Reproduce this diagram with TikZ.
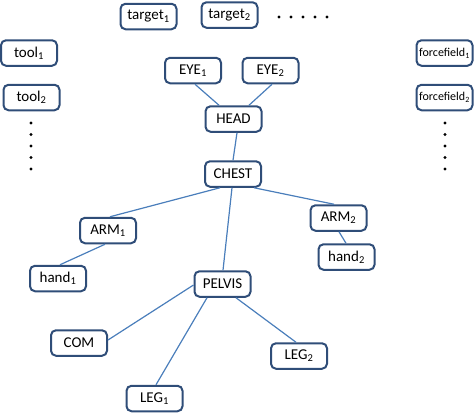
\documentclass[tikz,border=0pt]{standalone}
\usepackage{fontspec}
\setmainfont{Carlito}
\definecolor{boxc}{HTML}{2F4D78}
\definecolor{edgec}{HTML}{4A7EBB}
\begin{document}
\begin{tikzpicture}[x=1pt,y=-1pt,
  box/.style={draw=boxc,line width=2pt,rounded corners=5pt,fill=white,
    minimum width=56pt,minimum height=25.5pt,inner sep=1pt,font=\fontsize{15}{17}\selectfont},
  smallbox/.style={box,font=\fontsize{12}{14}\selectfont},
  link/.style={draw=edgec,line width=1.2pt},
  dot/.style={fill=black}]
\useasboundingbox (0,0) rectangle (474,413);
\node[box] (target1) at (148.5,16.5) {target\textsubscript{1}};
\node[box] (target2) at (229.5,15) {target\textsubscript{2}};
\node[box] (tool1) at (29,53) {tool\textsubscript{1}};
\node[box] (tool2) at (31.5,97.5) {tool\textsubscript{2}};
\node[smallbox] (ff1) at (444.5,53) {forcefield\textsubscript{1}};
\node[smallbox] (ff2) at (444.5,97.5) {forcefield\textsubscript{2}};
\node[box] (EYE1) at (193,70.5) {EYE\textsubscript{1}};
\node[box] (EYE2) at (270.5,70.5) {EYE\textsubscript{2}};
\node[box] (HEAD) at (233.5,119) {HEAD};
\node[box] (CHEST) at (233,174) {CHEST};
\node[box] (ARM1) at (108,230.5) {ARM\textsubscript{1}};
\node[box] (hand1) at (58,278.5) {hand\textsubscript{1}};
\node[box] (ARM2) at (338.5,218) {ARM\textsubscript{2}};
\node[box] (hand2) at (346.5,257) {hand\textsubscript{2}};
\node[box] (PELVIS) at (222.5,284) {PELVIS};
\node[box] (COM) at (79,343) {COM};
\node[box] (LEG1) at (154.5,398.5) {LEG\textsubscript{1}};
\node[box] (LEG2) at (299,356) {LEG\textsubscript{2}};
\draw[link] ([xshift=2pt]EYE1.south) -- ([xshift=-14.5pt]HEAD.north);
\draw[link] ([xshift=1.5pt]EYE2.south) -- ([xshift=15.5pt]HEAD.north);
\draw[link] ([xshift=3.5pt]HEAD.south) -- (CHEST.north);
\draw[link] ([xshift=-13pt]CHEST.south) -- ([xshift=2pt]ARM1.north);
\draw[link] ([xshift=-1pt]CHEST.south) -- ([xshift=0.5pt]PELVIS.north);
\draw[link] ([xshift=21pt]CHEST.south) -- ([xshift=-4.5pt]ARM2.north);
\draw[link] ([xshift=-3pt]ARM1.south) -- ([xshift=2pt]hand1.north);
\draw[link] ([xshift=0.5pt]ARM2.south) -- ([xshift=-0.5pt]hand2.north);
\draw[link] ([yshift=-1pt]PELVIS.west) -- ([yshift=3pt]COM.east);
\draw[link] ([xshift=-15.5pt]PELVIS.south) -- ([xshift=1.5pt]LEG1.north);
\draw[link] ([xshift=13.5pt]PELVIS.south) -- ([xshift=-3pt]LEG2.north);
\foreach \i in {0,...,4} {
  \fill[dot] (279+12*\i,17) circle (1.6);
  \fill[dot] (31,123+11.5*\i) circle (1.6);
  \fill[dot] (445,123+11.5*\i) circle (1.6);
}
\end{tikzpicture}
\end{document}
